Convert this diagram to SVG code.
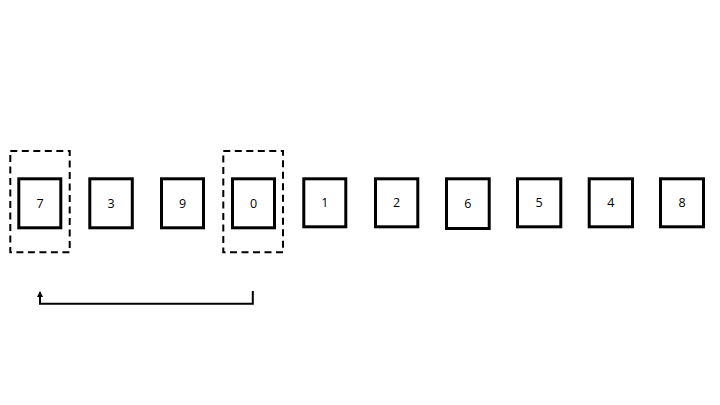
<svg xmlns="http://www.w3.org/2000/svg" width="720" height="405" viewBox="0 0 720 405">
<style>
.box{fill:#fff;stroke:#000;stroke-width:3}
.sel{fill:none;stroke:#000;stroke-width:2;stroke-dasharray:7 4.5}
.lbl{font-family:"Open Sans","Liberation Sans",sans-serif;font-size:12.5px;fill:#000;text-anchor:middle;dominant-baseline:central}
.conn{fill:none;stroke:#000;stroke-width:2}
</style>
<defs>
<marker id="ah" viewBox="0 0 6 6" refX="5" refY="3" markerWidth="6" markerHeight="6" markerUnits="userSpaceOnUse" orient="auto">
<path d="M0,0 L6,3 L0,6 Z" fill="#000"/>
</marker>
</defs>
<rect width="720" height="405" fill="#fff"/>
<g id="sel-left"><rect class="sel" x="10.3" y="151" width="59.4" height="101.3"/></g>
<g id="sel-right"><rect class="sel" x="223.3" y="151" width="59.7" height="101.3"/></g>
<g id="n7"><rect class="box" x="18.8" y="178.8" width="42" height="49"/><text class="lbl" x="40" y="203.5">7</text></g>
<g id="n3"><rect class="box" x="89.8" y="178.8" width="42.5" height="49"/><text class="lbl" x="111" y="203.5">3</text></g>
<g id="n9"><rect class="box" x="161.5" y="178.8" width="42" height="49"/><text class="lbl" x="182.5" y="203.5">9</text></g>
<g id="n0"><rect class="box" x="232.5" y="178.8" width="42" height="49"/><text class="lbl" x="253.5" y="203.5">0</text></g>
<g id="n1"><rect class="box" x="303.8" y="178.8" width="42" height="48"/><text class="lbl" x="324.8" y="202.5">1</text></g>
<g id="n2"><rect class="box" x="375.5" y="178.8" width="42.3" height="48"/><text class="lbl" x="396.6" y="202.5">2</text></g>
<g id="n6"><rect class="box" x="446.5" y="178.8" width="42.7" height="49.7"/><text class="lbl" x="467.8" y="203.5">6</text></g>
<g id="n5"><rect class="box" x="517.5" y="178.8" width="43.3" height="48"/><text class="lbl" x="539.1" y="202.5">5</text></g>
<g id="n4"><rect class="box" x="589.2" y="178.8" width="43.3" height="48"/><text class="lbl" x="610.8" y="202.5">4</text></g>
<g id="n8"><rect class="box" x="660.5" y="178.8" width="43" height="48"/><text class="lbl" x="682" y="202.5">8</text></g>
<g id="connectors">
<path class="conn" d="M252.8,291 V303.8 H40 V292" marker-end="url(#ah)"/>
</g>
</svg>
